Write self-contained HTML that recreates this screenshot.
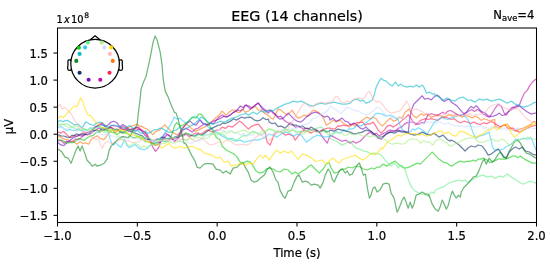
<!DOCTYPE html>
<html><head><meta charset="utf-8"><title>EEG (14 channels)</title>
<style>html,body{margin:0;padding:0;background:#fff}body{width:550px;height:264px;overflow:hidden;position:relative}</style></head>
<body>
<svg width="550" height="264" viewBox="0 0 550 264" style="position:absolute;left:0;top:0">
<defs><clipPath id="c"><rect x="57.5" y="28.0" width="479.0" height="194.5"/></clipPath></defs>
<g clip-path="url(#c)" fill="none" stroke-width="1.25" stroke-opacity="0.6" stroke-linejoin="round" stroke-linecap="butt">
<polyline stroke="#ff7711" points="57.6,137.1 60.1,136.4 62.7,138.4 65.3,139.3 67.9,139.7 70.4,141.4 73.0,141.0 76.9,144.2 80.1,141.6 82.7,143.5 85.9,142.9 88.5,144.2 91.0,139.7 93.6,137.7 97.5,135.8 100.0,138.4 103.9,139.7 106.5,136.5 109.6,131.6 112.6,130.1 115.5,132.4 118.5,130.1 121.4,128.7 124.4,130.1 127.3,127.9 130.3,126.5 133.2,125.7 135.2,124.8 137.4,124.1 139.7,126.4 142.0,126.2 144.2,127.9 147.3,129.3 150.3,131.7 152.6,134.7 155.6,131.7 159.4,130.2 162.4,127.1 164.7,124.8 167.0,127.1 169.2,129.4 171.5,131.7 174.1,133.1 177.1,135.1 180.1,132.1 183.1,127.1 186.1,124.1 189.2,126.1 192.2,129.1 195.2,131.1 198.2,130.1 202.2,128.1 206.2,126.1 210.2,123.1 214.3,119.1 218.3,116.0 221.3,112.0 222.2,111.1 226.3,115.1 229.3,112.1 232.3,110.1 234.8,110.0 237.3,112.1 239.8,112.4 242.3,109.1 245.3,112.1 248.4,111.1 252.4,107.0 255.4,106.7 258.4,110.1 261.4,110.2 264.4,113.1 268.1,115.1 271.1,118.2 273.1,119.2 276.1,113.1 278.1,109.1 281.1,110.1 284.2,113.1 287.2,115.1 290.2,112.1 292.2,110.1 295.2,115.1 298.2,118.2 301.2,117.1 304.2,115.1 307.2,116.1 310.3,113.1 313.3,110.1 316.3,111.1 319.3,113.1 322.3,116.1 324.3,120.2 326.3,125.2 329.3,123.2 330.0,123.1 333.0,120.1 336.0,122.1 340.0,120.1 343.1,123.1 346.1,125.1 349.1,127.1 352.1,124.1 355.1,126.1 358.1,124.1 361.1,121.1 364.1,119.1 367.1,117.1 370.2,119.1 373.2,117.1 376.2,119.1 379.2,123.1 382.2,126.1 385.2,123.1 388.2,120.1 390.2,118.1 393.3,121.1 396.3,120.1 399.3,117.1 402.3,118.1 405.0,112.2 407.5,110.5 409.1,108.9 411.5,113.0 414.0,116.3 416.5,117.9 418.9,115.5 421.4,113.8 423.8,115.5 426.3,113.8 428.7,115.5 431.2,117.1 434.5,116.3 437.7,114.6 440.2,115.5 442.6,117.1 445.9,116.3 449.2,114.6 452.5,116.3 455.7,114.6 459.0,115.5 462.3,117.1 465.6,115.5 468.8,116.3 472.1,117.9 475.4,116.3 478.6,117.9 481.1,120.4 483.6,118.7 486.8,119.5 490.1,121.2 492.4,120.1 494.7,119.5 495.2,126.1 499.3,128.1 503.3,125.1 507.3,124.1 511.3,129.1 515.3,131.1 519.3,129.1 523.4,128.1 527.4,126.1 531.4,124.1 533.7,121.3 536.0,122.1"/>
<polyline stroke="#ff2255" points="57.6,131.9 60.8,133.2 63.4,131.3 66.6,134.5 69.2,137.1 71.7,137.5 74.3,135.2 76.9,136.5 80.7,134.5 84.0,131.6 87.2,132.6 89.7,132.4 92.3,130.0 94.9,126.7 97.5,126.2 99.3,124.2 102.2,122.8 105.2,125.7 108.1,127.9 111.1,127.2 114.0,128.7 117.0,130.1 119.9,128.7 122.9,126.5 125.8,127.9 128.8,130.1 131.8,128.7 135.2,128.6 138.2,127.1 141.2,129.4 144.2,131.7 147.3,136.2 150.3,140.8 152.6,143.8 154.8,144.5 157.9,143.0 160.9,140.8 163.9,139.2 167.7,140.0 171.5,138.5 175.3,140.0 179.1,137.7 180.1,135.1 183.1,136.2 186.1,134.1 189.2,136.8 192.2,135.1 195.2,133.2 198.2,133.1 201.2,134.0 204.2,132.1 207.2,129.9 210.2,131.1 213.3,132.2 216.3,130.1 219.3,130.0 222.3,127.1 225.3,128.4 228.3,126.1 232.3,127.1 236.3,124.1 239.4,121.1 242.4,123.1 246.4,127.1 248.4,129.1 251.4,126.3 254.4,125.1 258.4,124.1 262.4,129.1 265.4,133.2 267.1,142.1 270.1,145.1 272.1,140.1 274.1,134.1 277.1,131.1 281.1,132.1 285.2,135.1 289.2,134.1 293.2,136.1 295.2,140.1 298.2,136.1 301.2,132.1 304.2,130.1 307.2,131.1 311.3,133.1 314.3,131.1 317.3,131.5 320.3,131.1 322.8,129.7 325.3,128.9 327.8,128.1 330.3,128.1 332.9,129.2 335.4,128.7 337.9,125.8 340.4,126.1 342.9,125.1 345.4,125.6 347.9,125.5 350.4,124.4 352.9,124.1 355.4,123.4 357.8,122.4 360.3,122.5 362.8,122.2 365.2,125.3 367.7,123.7 370.2,124.1 373.2,122.1 375.2,125.1 378.2,130.1 381.2,133.1 384.2,130.1 387.2,126.1 390.2,125.1 393.3,127.1 396.3,125.1 399.3,123.1 402.3,120.1 405.3,118.1 408.3,114.6 410.7,117.9 413.2,122.0 415.6,124.5 418.1,122.8 420.5,120.4 423.0,119.5 425.5,118.7 427.9,119.5 431.2,118.7 434.5,119.5 437.7,120.4 441.0,117.9 444.3,117.1 447.6,117.9 450.8,119.5 454.1,118.7 457.4,121.2 460.6,122.8 463.9,121.2 467.2,122.0 470.5,123.6 473.7,122.0 477.0,123.6 480.3,124.5 483.6,122.8 486.8,123.6 490.1,122.0 492.4,121.9 494.7,123.6 495.2,124.1 497.8,125.2 500.3,127.1 502.8,125.6 505.3,125.1 507.8,128.3 510.3,128.1 512.8,128.0 515.3,130.1 519.3,132.1 523.4,130.1 527.4,128.1 531.4,126.1 533.7,125.8 536.0,125.1"/>
<polyline stroke="#bb11aa" points="58.0,141.2 60.9,140.2 63.9,143.4 66.8,141.1 69.8,141.9 72.7,141.7 75.7,139.0 78.6,139.7 81.6,137.5 84.5,134.8 87.5,134.6 90.4,134.0 93.4,131.6 96.3,129.6 99.3,127.9 102.2,130.3 105.2,128.7 108.1,128.3 111.1,125.7 114.0,125.6 117.0,126.5 119.9,127.3 122.9,129.4 125.8,129.1 128.8,131.6 132.0,130.8 135.2,130.2 137.4,129.8 139.7,129.4 142.0,130.7 144.2,131.7 147.3,134.7 150.3,140.8 152.6,146.8 155.6,151.4 158.6,147.6 160.9,141.5 163.2,136.2 165.5,133.2 168.5,134.7 171.5,137.7 174.5,141.5 176.8,139.2 179.1,136.2 180.1,134.1 183.1,130.1 186.1,128.1 189.2,130.1 192.2,132.1 195.2,129.1 198.2,128.1 201.2,126.1 204.2,124.1 207.2,125.1 210.2,123.1 213.3,121.1 216.3,120.1 219.3,117.0 222.3,115.0 225.3,117.0 228.3,116.0 231.3,114.0 234.3,112.0 237.3,110.0 240.4,111.0 243.4,109.0 245.0,105.1 249.0,106.1 252.0,108.1 255.0,105.1 258.1,103.1 261.1,106.1 264.1,109.1 267.1,111.1 270.1,110.1 273.1,113.1 275.7,114.6 278.3,117.0 280.9,116.2 283.4,119.5 286.0,121.8 288.6,123.0 291.2,123.0 295.2,127.1 299.2,126.1 303.2,129.1 307.2,128.1 311.3,130.1 315.3,129.1 319.3,132.1 323.3,138.1 327.3,143.1 330.0,135.1 334.0,137.1 338.0,139.2 342.0,141.2 346.1,140.2 350.1,143.2 353.1,141.2 356.1,143.2 360.1,141.2 364.1,137.1 367.1,134.1 370.2,132.1 373.2,134.8 376.2,133.1 379.2,135.7 382.2,134.1 384.9,132.7 387.6,131.2 390.2,130.1 392.9,130.5 395.6,130.8 398.3,128.1 401.3,127.5 404.3,124.1 407.3,122.6 410.3,122.1 413.3,122.1 416.3,124.1 419.0,124.1 421.7,122.5 424.4,123.1 427.9,114.6 431.2,113.8 434.5,114.6 437.7,115.5 440.2,113.8 442.6,112.2 445.1,113.8 447.6,111.4 450.0,110.5 452.5,111.4 454.9,113.0 457.4,114.6 460.6,115.5 463.9,114.6 467.2,112.2 469.6,110.5 472.1,109.7 474.6,111.4 477.0,109.7 479.5,110.5 481.9,113.0 484.4,114.6 486.8,116.3 489.2,117.2 492.2,113.2 495.2,108.2 498.3,104.2 501.3,106.2 504.3,113.2 506.3,115.2 509.3,110.2 512.3,107.2 515.3,108.2 519.3,105.2 521.3,100.1 524.4,93.1 527.4,90.1 529.4,86.1 532.4,82.1 536.0,79.1"/>
<polyline stroke="#33ccff" points="58.0,127.9 60.9,126.3 63.9,128.7 66.8,130.8 69.8,129.4 72.7,130.4 75.7,130.1 78.6,128.8 81.6,130.9 84.5,129.3 87.5,130.1 90.4,127.6 93.4,128.7 96.3,126.5 99.3,126.5 101.5,125.1 103.7,125.7 106.7,127.2 108.9,134.6 110.4,139.7 111.8,143.4 114.0,144.9 115.2,142.1 118.3,145.6 121.3,147.1 124.5,139.2 126.8,145.3 129.1,147.6 132.1,146.1 135.2,144.5 138.2,147.6 141.2,149.1 144.2,149.8 147.3,148.3 150.3,145.3 152.6,143.0 155.6,143.8 158.6,141.5 161.7,137.7 164.7,133.2 167.7,129.4 170.8,124.1 173.0,120.3 174.1,117.0 177.1,119.1 180.1,118.1 183.1,121.1 186.1,123.1 189.2,120.1 192.2,118.1 195.2,116.0 198.2,118.1 201.2,121.1 204.2,124.1 208.2,127.1 212.2,129.1 216.3,132.1 220.3,135.1 224.3,137.1 228.3,139.1 232.3,138.1 236.3,141.1 240.4,140.1 244.4,142.1 248.4,141.1 252.4,140.1 254.7,139.7 257.0,140.1 261.1,139.1 265.1,137.1 269.1,134.1 273.1,135.1 277.1,137.1 281.1,134.1 285.2,132.1 289.2,133.1 293.2,136.1 297.2,134.1 301.2,135.1 304.2,139.1 306.2,142.1 309.3,140.1 313.3,137.1 317.3,135.1 321.3,136.1 325.3,137.1 329.3,136.1 331.7,136.1 334.2,132.4 336.6,131.6 339.0,133.2 341.4,132.1 343.9,129.6 346.4,131.3 348.9,128.6 351.4,129.1 354.1,128.1 357.1,125.6 360.1,126.1 364.1,124.1 368.2,121.1 372.2,118.1 375.2,114.1 378.2,113.1 382.2,114.1 386.2,116.1 390.2,115.1 394.3,117.1 398.3,120.1 400.3,126.1 403.3,131.1 405.8,132.9 408.3,132.1 410.5,131.8 412.7,128.9 414.8,130.2 418.1,127.7 421.4,129.4 424.6,131.8 427.1,134.3 429.5,130.2 432.0,126.1 434.5,122.0 436.9,120.4 439.4,118.7 441.8,117.1 444.3,118.7 447.6,119.5 450.8,117.9 454.1,117.1 457.4,116.3 460.6,114.6 463.9,115.5 466.4,117.9 468.8,121.2 470.5,125.3 472.1,130.2 473.7,134.3 476.2,138.2 479.2,136.1 483.2,135.1 487.2,133.1 489.2,132.1 490.4,138.2 491.2,140.0 492.2,146.0 494.2,150.0 496.7,149.5 499.3,150.0 503.3,149.0 507.3,146.0 511.3,144.0 514.3,141.0 515.3,139.2 519.3,140.2 523.4,138.2 527.4,139.2 531.4,138.2 533.4,143.2 536.0,150.2"/>
<polyline stroke="#7711bb" points="58.0,142.7 60.9,144.9 63.9,145.6 66.8,142.7 69.8,140.5 72.7,138.3 75.7,136.8 78.6,135.3 81.6,136.0 84.5,134.6 87.5,132.4 90.4,131.6 93.4,129.4 96.3,126.5 99.3,125.0 102.2,124.2 105.2,126.5 108.1,125.0 111.1,122.0 114.0,121.3 117.0,122.8 120.0,127.1 122.3,124.6 124.5,125.6 127.6,127.9 130.6,130.2 133.6,128.6 136.7,127.1 139.7,129.4 142.7,132.4 145.8,136.2 148.8,140.0 151.8,143.0 154.8,145.3 157.9,144.5 160.9,141.5 163.9,137.7 167.0,134.7 170.0,136.2 173.0,139.2 176.1,137.7 179.1,134.7 182.1,129.1 186.1,124.1 190.2,121.1 193.2,124.1 196.2,125.1 199.2,120.7 200.2,120.1 202.8,123.5 205.5,123.9 208.2,125.1 210.9,123.2 213.5,123.8 216.2,120.1 218.9,119.2 221.6,117.7 224.3,116.1 227.3,117.1 230.3,115.1 233.3,112.4 236.3,111.1 240.3,106.0 243.3,107.6 246.3,105.0 250.4,109.1 254.4,106.0 258.4,103.0 262.4,109.1 265.4,111.0 268.4,113.1 269.1,112.1 271.1,110.1 274.1,113.1 277.1,117.1 280.1,119.2 283.2,118.2 286.2,115.1 288.2,113.1 291.2,116.1 294.2,119.2 297.2,121.2 300.2,122.2 303.2,120.2 306.2,117.1 309.3,115.1 312.3,113.1 315.3,112.1 318.3,113.1 321.3,115.1 324.3,117.1 327.3,116.1 329.3,117.8 330.0,120.1 333.0,118.1 336.0,121.1 339.0,120.1 342.0,118.1 345.1,121.1 348.1,122.1 351.1,125.1 354.1,123.1 357.1,125.1 360.1,128.1 363.1,129.1 366.1,127.1 369.2,130.1 372.2,132.1 375.2,135.1 378.2,138.2 381.2,139.2 384.2,136.1 387.2,133.1 390.2,132.1 394.3,131.1 398.3,130.1 401.3,130.9 404.3,131.1 408.3,132.6 409.6,119.5 411.5,109.7 414.0,104.0 417.3,100.7 420.5,97.5 422.2,95.8 424.6,99.1 427.9,98.3 431.2,99.9 434.5,96.6 436.9,95.0 439.4,96.6 441.8,99.9 444.3,101.5 446.7,99.9 449.2,99.1 451.6,102.4 454.1,104.0 456.6,105.6 459.0,108.1 461.5,111.4 463.9,113.8 466.4,112.2 468.8,108.9 471.3,106.5 473.7,108.1 476.2,105.6 477.8,107.3 480.3,110.5 482.7,112.2 485.2,113.0 487.7,115.5 490.4,116.7 493.2,116.1 496.2,115.2 499.3,113.1 501.8,115.4 504.3,115.1 506.8,112.9 509.3,111.0 511.8,109.4 514.3,107.0 516.8,105.6 519.3,106.0 523.4,109.0 527.4,112.0 531.4,114.1 533.7,113.4 536.0,113.1"/>
<polyline stroke="#11cc11" points="58.0,139.7 60.9,140.0 63.9,141.2 66.8,143.1 69.8,142.7 72.7,142.6 75.7,141.2 78.6,138.4 81.6,139.7 84.5,140.3 87.5,137.5 90.4,136.2 93.4,135.3 96.3,132.3 99.3,132.4 102.2,130.2 105.2,130.9 108.1,130.4 111.1,132.4 114.0,132.3 117.0,134.6 119.9,132.5 122.9,133.1 126.0,132.8 129.1,134.7 131.4,136.7 133.6,137.7 135.9,137.4 138.2,136.2 140.5,138.7 142.7,138.5 145.0,141.7 147.3,141.5 149.5,142.3 151.8,143.8 154.1,142.9 156.4,142.3 158.6,141.4 160.9,140.0 163.2,141.4 165.5,141.5 167.7,141.2 170.0,139.2 172.3,133.2 174.5,125.6 176.8,122.6 180.1,126.1 183.1,125.1 186.1,123.1 189.1,121.1 192.1,117.1 196.1,118.1 198.7,114.1 201.2,114.1 205.2,119.1 209.2,125.1 213.2,131.1 216.2,137.2 220.1,140.0 222.1,146.0 226.1,150.0 230.1,152.0 234.1,154.1 237.1,157.1 240.2,162.1 243.2,163.1 247.2,161.1 250.2,162.1 253.2,166.1 256.2,171.1 259.2,173.1 263.3,172.1 266.3,169.1 270.0,168.0 273.0,169.0 276.0,171.0 280.0,172.0 284.1,169.0 288.1,170.0 292.1,174.1 295.1,172.0 298.1,174.1 302.1,171.0 306.1,169.0 309.2,166.0 311.2,165.0 315.2,169.0 319.2,173.1 323.2,169.0 326.2,164.0 329.2,163.0 331.2,168.0 334.3,173.1 338.3,172.0 341.3,169.0 345.3,169.0 348.3,167.0 352.3,168.0 356.3,166.0 360.4,167.0 363.4,169.0 367.4,170.0 371.4,168.0 374.4,169.0 377.2,167.0 380.0,167.0 383.1,164.1 387.1,166.1 391.1,163.1 395.2,161.1 398.2,164.1 402.2,167.1 405.2,168.2 409.2,167.1 413.2,165.1 417.2,163.1 420.3,164.1 423.3,161.1 426.3,158.1 429.3,155.1 432.3,152.1 434.3,154.1 435.0,155.1 439.0,159.1 443.0,162.1 447.0,163.1 449.6,165.3 452.1,166.1 456.1,163.1 460.1,161.1 464.1,162.1 468.1,161.1 470.6,161.3 473.2,160.1 475.7,161.3 478.2,159.1 480.7,159.1 483.2,158.1 487.2,160.1 489.7,162.5 492.2,162.1 496.2,160.1 498.8,158.8 501.3,159.1 505.3,159.1 507.8,158.4 510.3,157.1 512.8,156.0 515.3,156.1 517.8,157.8 520.3,156.1 524.4,159.1 528.4,161.1 532.4,163.1 536.0,163.1"/>
<polyline stroke="#11bbcc" points="57.6,122.3 60.1,120.2 62.7,121.7 65.3,120.7 67.9,120.4 71.7,122.9 74.3,124.9 78.2,124.2 82.0,128.1 85.9,121.7 89.7,124.2 93.6,125.5 96.2,123.3 98.8,122.3 101.3,122.3 103.9,124.9 105.2,125.0 107.4,126.9 109.6,126.5 111.8,125.3 114.0,125.0 116.3,125.5 118.5,126.5 120.7,126.2 122.9,127.9 125.1,128.7 127.3,126.5 129.5,125.6 131.8,127.2 135.2,131.7 137.7,130.3 140.2,133.1 142.7,133.2 145.3,131.0 147.8,133.3 150.3,132.4 153.3,130.2 155.6,129.7 157.9,129.4 160.2,128.0 162.4,128.6 164.7,130.0 167.0,131.7 169.2,132.4 171.5,132.4 173.8,130.5 176.1,130.2 179.8,127.1 183.0,129.5 186.1,129.1 190.2,126.1 194.2,124.1 198.2,120.1 201.2,117.0 204.2,119.1 208.2,122.1 212.2,124.1 216.3,123.1 220.3,121.1 224.3,122.1 228.3,120.1 232.3,118.1 236.3,117.0 240.4,115.0 244.4,114.0 245.0,113.1 249.0,115.1 253.0,112.1 257.0,114.1 261.1,111.1 265.1,112.1 269.1,110.1 273.1,111.1 277.1,108.1 281.1,106.1 285.2,104.1 289.2,103.1 293.2,101.1 297.2,102.1 301.2,101.1 305.2,103.1 309.3,105.1 313.3,106.1 317.3,104.1 321.3,103.1 325.3,104.1 329.3,103.1 330.0,103.2 334.0,102.1 338.0,103.2 342.0,104.2 346.1,104.2 350.1,103.2 353.1,100.1 357.1,99.1 360.1,101.1 363.1,100.1 366.1,103.2 369.2,102.1 372.2,100.1 374.2,95.1 376.2,87.1 379.2,81.1 381.2,78.1 383.2,80.1 386.2,81.1 389.2,84.1 392.2,86.1 395.3,82.1 398.3,86.1 400.3,84.1 403.3,86.1 407.3,87.1 410.3,86.1 413.3,87.1 416.3,85.1 419.4,87.1 422.4,85.1 424.4,88.1 426.4,93.1 429.4,92.1 432.4,94.1 434.4,93.5 435.0,95.1 439.0,97.1 443.0,100.1 447.0,98.1 451.1,100.1 455.1,101.1 459.1,98.1 463.1,97.1 467.1,100.1 471.1,100.1 475.2,102.1 479.2,99.1 483.2,100.1 487.2,99.1 491.2,101.1 495.2,100.1 499.3,99.1 503.3,101.1 507.3,103.2 511.3,101.1 515.3,104.2 519.3,105.2 523.4,107.2 527.4,106.2 531.4,104.2 533.7,102.9 536.0,102.1"/>
<polyline stroke="#113366" points="58.0,134.6 60.9,135.8 63.9,136.0 66.8,137.2 69.8,137.5 72.0,135.1 74.2,136.0 76.4,133.9 78.6,134.6 81.6,134.2 84.5,133.8 87.5,134.7 90.4,132.4 93.4,130.7 96.3,130.1 99.3,131.1 102.2,127.9 105.2,129.5 108.1,128.7 111.1,127.6 114.0,130.1 117.0,129.1 119.9,131.6 122.9,132.4 125.8,130.9 128.8,129.8 131.8,131.6 135.2,133.2 137.7,134.0 140.2,135.2 142.7,136.2 145.3,139.0 147.8,139.5 150.3,139.2 152.6,140.8 154.8,140.8 157.1,138.9 159.4,139.2 161.7,137.0 163.9,137.7 166.2,138.4 168.5,138.5 170.8,139.1 173.0,137.7 175.3,136.7 177.6,137.0 178.1,137.1 182.1,135.1 186.1,133.1 190.2,135.1 194.2,136.1 198.2,134.1 202.2,135.1 206.2,132.1 210.2,129.1 214.3,127.1 218.3,125.1 220.2,125.1 222.9,123.1 225.6,123.5 228.3,122.1 231.0,120.9 233.6,118.8 236.3,120.1 239.0,118.6 241.7,117.0 244.3,118.1 247.3,117.3 250.4,117.1 254.4,120.1 257.4,120.8 260.4,120.1 263.1,117.8 265.8,119.6 268.4,119.1 269.1,122.0 272.1,123.7 275.1,123.0 278.1,126.7 281.1,126.1 285.2,128.1 289.2,124.0 293.2,125.1 296.2,125.0 299.2,127.1 302.2,125.7 305.2,128.1 308.3,129.0 311.3,127.1 315.3,130.1 319.3,132.1 323.3,130.1 326.3,132.1 329.3,131.1 330.0,130.1 334.0,131.1 338.0,129.1 342.0,130.1 346.1,131.1 350.1,132.1 354.1,134.1 358.1,133.1 362.1,132.1 366.1,130.1 370.2,131.1 374.2,134.1 378.2,137.1 382.2,137.1 386.2,134.1 390.2,132.1 394.3,133.1 398.3,131.1 402.3,132.1 406.3,132.1 410.3,134.1 414.3,135.1 418.4,134.1 422.4,132.1 426.4,134.1 430.4,135.1 434.4,133.1 435.0,134.1 439.0,137.1 443.0,135.1 447.0,139.2 450.1,141.2 451.1,140.0 455.1,142.0 459.1,145.0 462.1,148.0 465.1,151.0 468.1,148.0 471.1,146.0 475.2,147.0 478.2,145.0 482.2,146.0 485.2,150.0 488.2,155.1 491.2,154.1 495.2,151.0 498.3,149.0 501.3,153.1 504.3,157.1 506.3,158.1 509.3,152.0 512.3,149.0 515.3,147.0 519.3,149.0 522.3,147.0 525.4,151.0 529.4,152.0 532.4,154.1 536.0,155.1"/>
<polyline stroke="#66ee88" points="57.6,123.6 60.1,124.9 62.7,124.2 65.3,124.0 67.9,124.2 71.7,126.8 75.6,128.7 78.2,130.2 80.7,130.7 83.3,128.4 85.9,130.0 88.2,130.2 90.4,129.4 92.6,128.3 94.9,127.9 97.1,127.3 99.3,126.5 102.2,128.9 105.2,127.9 108.1,127.7 111.1,130.1 114.0,129.7 117.0,129.4 119.9,130.1 122.9,131.6 125.8,132.6 128.8,130.1 132.0,131.0 135.2,134.7 138.2,136.4 141.2,136.8 144.2,137.7 147.3,137.3 150.3,139.5 153.3,140.0 156.4,140.8 159.4,139.0 162.4,139.2 165.5,139.8 168.5,137.9 171.5,137.7 174.0,137.9 176.6,136.3 179.1,136.2 181.9,135.3 184.9,133.0 187.8,133.8 190.8,134.1 193.7,135.3 196.7,136.3 199.6,133.8 202.6,136.2 205.6,134.6 208.5,134.6 211.5,133.1 213.7,134.1 216.0,132.6 218.3,133.1 221.3,134.1 224.3,135.1 227.3,139.0 230.3,139.1 234.3,141.1 238.4,139.1 242.4,136.1 244.4,135.1 245.0,136.1 249.0,134.1 253.0,131.1 257.0,133.1 261.1,135.1 265.1,132.1 269.1,129.1 273.1,130.1 277.1,132.1 281.1,131.1 285.2,129.1 289.2,131.1 293.2,130.1 297.2,132.1 301.2,131.1 305.2,132.1 309.3,130.1 313.3,129.1 317.3,128.1 321.3,127.1 325.3,130.1 329.3,132.1 330.0,138.2 334.0,140.2 338.0,142.2 342.0,145.2 346.1,143.2 350.1,141.2 353.1,145.2 356.1,148.2 360.1,149.2 364.1,151.2 368.2,152.2 371.1,154.1 375.1,153.1 379.1,154.1 382.1,156.1 385.1,160.1 388.1,163.1 391.1,166.1 394.2,163.1 396.2,165.1 398.2,168.2 400.1,165.0 402.6,166.0 405.1,170.0 407.1,176.0 409.2,182.1 412.2,188.1 415.2,191.1 419.2,193.1 421.7,194.1 424.2,194.1 428.2,196.1 431.2,192.1 434.3,193.1 435.0,190.2 439.0,188.2 443.0,187.2 447.0,184.2 451.1,182.2 455.1,181.2 459.1,180.2 462.1,181.1 465.1,180.2 468.1,182.2 471.1,180.2 475.2,178.2 479.2,176.1 483.2,175.1 487.2,177.1 491.2,176.1 495.2,178.2 499.3,176.1 503.3,177.1 507.3,174.1 511.3,177.1 515.3,179.2 519.3,182.2 523.4,184.2 527.4,182.2 531.4,181.2 533.7,182.3 536.0,183.2"/>
<polyline stroke="#ffbbbb" points="57.8,107.4 60.1,104.2 62.1,109.3 64.7,107.4 67.9,110.6 71.1,113.8 74.3,119.6 76.2,122.8 77.1,125.0 80.1,127.2 83.8,130.9 87.5,133.8 89.7,135.6 91.9,137.5 95.6,139.7 98.2,139.1 100.2,144.1 102.2,148.1 104.2,144.1 108.2,141.1 111.2,144.1 115.5,141.9 118.1,140.9 120.7,139.7 123.3,139.5 125.8,141.2 128.8,140.7 131.8,142.7 134.2,142.6 136.7,142.0 139.1,141.9 141.7,140.1 144.3,140.2 146.9,140.8 149.5,140.5 152.0,141.4 154.6,139.0 157.2,141.4 159.8,141.2 162.4,140.3 165.0,140.2 167.5,139.3 170.1,139.7 172.7,137.8 175.3,139.4 177.9,140.4 180.5,139.3 184.1,139.1 187.1,139.5 190.2,138.1 194.2,141.1 198.2,140.1 202.2,138.1 206.2,142.1 210.2,145.2 214.3,144.2 218.3,142.1 222.3,143.2 226.3,140.1 230.3,141.1 234.3,144.2 238.4,145.2 242.4,144.2 246.4,145.2 249.0,144.1 253.0,140.1 257.0,136.1 261.1,134.1 264.1,138.1 268.1,141.1 272.1,138.1 276.1,134.1 280.1,131.1 284.2,130.1 287.2,130.2 290.2,125.2 293.2,120.2 296.2,115.1 299.2,110.1 302.2,105.1 305.2,103.1 308.3,106.1 311.3,107.1 314.3,105.1 317.3,103.1 321.3,102.1 325.3,103.1 329.3,102.1 330.0,103.2 333.0,100.1 336.0,96.1 338.0,97.1 341.0,102.1 344.1,103.2 347.1,101.1 350.1,102.1 354.1,99.1 358.1,98.1 362.1,99.1 365.1,97.1 367.1,93.1 369.2,91.1 371.2,95.1 373.2,99.1 376.2,102.1 379.2,101.1 382.2,104.2 385.2,108.2 388.2,111.2 391.2,113.2 395.3,112.2 399.3,111.2 402.3,108.2 404.3,104.2 405.0,104.8 406.6,100.7 408.3,104.0 409.9,108.1 412.4,110.5 414.8,108.9 418.1,109.7 421.4,111.4 424.6,113.0 427.9,113.8 430.4,114.7 432.8,114.6 435.3,116.3 437.7,116.3 440.2,115.8 442.6,115.5 445.1,113.4 447.6,113.8 450.0,114.3 452.5,114.6 454.9,116.7 457.4,116.3 459.8,114.3 462.3,115.5 464.7,115.6 467.2,114.6 469.6,113.6 472.1,115.5 474.6,114.8 477.0,114.6 479.5,114.4 481.9,113.8 484.9,112.7 489.2,107.0 493.2,105.0 497.2,104.0 501.3,106.0 505.3,108.0 507.6,108.8 510.0,110.4 512.3,109.0 514.7,109.5 517.0,107.7 519.3,110.0 523.4,115.1 527.4,119.1 531.4,122.1 533.7,122.6 536.0,123.1"/>
<polyline stroke="#ccddff" points="58.0,126.9 60.3,126.9 62.7,127.5 65.0,129.2 67.4,128.3 69.8,127.9 72.2,127.3 74.7,128.7 77.1,131.5 79.6,129.2 82.1,131.9 84.5,130.9 87.0,132.0 89.4,132.7 91.9,131.6 94.4,133.5 96.8,131.6 99.3,133.1 101.7,134.6 104.2,135.0 106.7,134.2 109.1,133.9 111.6,136.0 114.0,136.0 116.5,137.8 119.0,136.1 121.4,137.7 123.9,136.4 126.3,138.9 128.8,138.3 131.3,137.5 133.7,138.7 136.2,138.3 138.6,138.7 141.1,140.3 143.6,140.5 146.5,141.0 149.5,141.2 152.2,139.9 154.9,141.8 157.6,141.0 160.3,140.9 163.0,141.1 165.7,139.3 168.4,140.3 171.0,141.4 173.7,140.4 176.3,138.6 179.0,139.7 180.1,140.1 183.1,143.0 186.1,142.1 189.2,142.8 192.2,143.2 195.2,140.9 198.2,141.1 201.2,140.1 204.2,137.1 207.2,134.5 210.2,135.1 213.3,134.4 216.3,133.1 219.3,129.5 222.3,130.1 225.3,131.5 228.3,131.1 231.3,130.4 234.3,133.1 237.3,132.8 240.4,135.1 243.4,133.6 246.4,136.1 249.4,135.2 252.4,135.1 255.4,132.5 258.4,134.1 261.1,134.4 263.8,134.0 266.5,135.4 269.1,134.1 271.8,134.5 274.5,133.1 277.2,131.1 279.9,131.5 282.5,130.6 285.2,131.9 287.9,129.9 290.6,129.1 293.2,128.2 295.9,129.4 298.6,125.3 301.3,126.2 303.9,124.7 306.6,124.1 309.5,123.2 312.4,118.8 315.3,118.2 319.3,115.1 323.3,113.1 327.3,111.1 330.0,106.2 334.0,108.2 338.0,111.2 341.0,113.2 344.1,110.2 347.1,107.2 350.1,108.2 354.1,110.2 358.1,111.2 362.1,113.2 366.1,115.2 370.2,113.2 374.2,110.2 377.2,107.2 380.2,108.2 383.2,112.2 386.2,115.2 390.2,116.1 393.3,118.7 396.3,117.1 398.8,117.6 401.3,118.6 403.8,117.7 406.3,119.1 409.1,122.5 412.0,121.3 414.8,123.6 417.0,122.0 419.2,122.3 421.4,124.5 424.1,123.6 426.8,121.7 429.5,122.8 432.3,122.1 435.0,124.0 437.7,122.0 440.5,122.0 443.2,123.8 445.9,123.6 448.6,123.0 451.4,124.4 454.1,125.3 456.8,126.1 459.6,125.7 462.3,126.1 465.0,126.9 467.7,125.8 470.5,126.9 473.2,126.7 475.9,127.1 478.6,126.1 481.4,125.7 484.1,128.5 486.8,127.7 489.3,128.6 491.8,127.0 494.3,127.6 496.8,127.3 499.3,128.1 501.7,129.6 504.1,127.7 506.5,130.0 508.9,130.2 511.3,130.1 513.7,130.6 516.1,128.6 518.5,128.2 520.9,130.8 523.4,129.1 525.9,128.2 528.4,128.7 530.9,127.2 533.5,128.9 536.0,128.1"/>
<polyline stroke="#118822" points="58.0,149.1 62.0,152.1 65.0,157.1 68.1,158.2 71.1,163.2 74.1,155.1 76.1,150.1 78.1,146.1 80.1,151.1 82.1,146.1 85.1,154.1 87.1,160.2 90.1,163.2 92.1,166.2 95.2,164.2 97.2,166.2 100.2,165.2 104.2,163.2 107.2,159.2 109.2,150.1 111.2,146.1 114.2,143.1 117.2,140.1 119.9,138.3 122.2,136.6 124.4,136.8 128.1,137.5 131.0,134.6 133.2,130.1 137.1,125.2 138.1,115.2 140.1,99.1 141.1,89.1 143.1,83.0 146.1,76.2 150.1,58.1 153.1,42.1 155.1,36.0 157.1,40.0 160.2,52.1 162.2,66.2 163.2,79.2 165.2,91.1 168.2,97.1 171.2,105.1 174.2,112.1 176.1,113.1 178.1,119.1 180.1,127.1 182.1,135.2 184.1,143.2 186.1,144.1 189.1,150.1 192.1,156.1 195.1,161.2 197.1,167.2 200.0,168.1 204.0,164.1 206.5,163.7 209.0,163.7 213.1,164.1 216.1,169.1 220.1,170.1 223.1,173.1 226.1,171.1 230.1,174.1 233.1,168.1 237.1,167.1 240.2,164.1 243.2,163.1 245.2,167.1 248.2,172.1 251.2,180.2 254.2,182.2 257.2,181.2 260.2,178.2 264.3,175.1 267.3,169.1 270.0,167.0 273.0,172.0 276.0,180.1 278.0,182.1 280.0,190.1 283.1,196.1 285.1,198.2 288.1,191.1 291.1,190.1 294.1,182.1 297.1,176.1 299.1,175.1 302.1,182.1 305.1,181.1 308.2,182.1 311.2,185.1 314.2,184.1 318.2,185.1 320.2,188.1 323.2,182.1 325.2,175.1 328.2,169.0 330.2,172.0 332.2,179.1 334.3,182.1 336.3,177.1 339.3,171.0 342.3,169.0 345.3,173.1 347.3,171.0 349.3,175.1 352.3,174.1 354.3,170.0 357.3,165.0 359.4,163.0 361.4,169.0 363.4,175.1 365.4,174.1 367.4,188.1 369.4,198.2 371.0,195.1 373.0,188.1 375.0,187.1 377.0,192.1 380.0,190.1 383.1,184.1 386.1,183.1 389.1,184.1 391.1,193.1 394.1,198.1 397.1,212.2 399.1,208.2 402.1,200.1 404.1,197.1 406.1,202.1 408.2,208.2 410.2,202.1 412.2,208.2 414.2,203.2 416.2,195.1 419.2,194.1 422.2,192.1 425.2,194.1 428.2,194.1 430.2,198.1 432.2,204.2 435.3,209.2 438.3,211.2 440.3,206.2 442.3,200.1 444.3,204.2 446.3,209.2 448.3,205.2 450.3,197.1 452.3,191.1 454.3,195.1 456.3,198.1 458.4,195.1 460.4,197.1 461.1,192.2 464.1,187.2 467.1,184.2 470.1,181.2 473.2,177.1 476.2,176.1 479.2,170.1 482.2,162.1 484.2,159.1 486.2,164.1 489.2,158.1 492.2,162.1 495.2,159.1 498.3,154.1 500.3,152.0 503.3,157.1 506.3,158.1 509.3,151.0 512.3,146.0 514.3,142.0 517.3,140.0 520.3,143.0 523.4,149.0 526.4,153.1 529.4,154.1 532.4,156.1 536.0,158.1"/>
<polyline stroke="#ffdd00" points="57.6,118.3 60.8,116.4 63.4,117.7 66.6,113.8 70.4,109.9 74.3,106.1 76.9,106.7 78.8,102.2 80.7,97.7 82.7,101.6 85.2,109.3 87.8,115.1 90.4,115.7 93.0,118.3 96.2,122.8 97.8,123.5 100.0,125.9 102.2,127.9 104.8,127.9 107.4,129.4 110.0,130.2 112.6,130.1 115.1,130.8 117.7,131.6 120.3,129.6 122.9,130.9 125.5,130.5 128.1,133.8 130.6,135.1 133.2,134.6 135.8,135.7 138.4,137.5 141.0,136.9 143.6,139.7 147.3,141.7 150.0,142.1 154.0,145.2 158.0,144.2 162.0,148.2 166.1,145.2 169.1,143.2 172.1,147.2 176.1,148.2 180.1,146.2 184.1,148.2 188.2,147.2 192.2,146.2 196.2,148.2 199.2,149.6 200.0,149.0 204.0,153.1 208.0,154.1 212.0,155.1 216.1,158.1 220.1,157.1 224.1,162.1 228.1,161.1 231.1,166.1 235.1,165.1 237.7,165.1 240.2,163.1 242.7,163.8 245.2,165.1 249.2,163.1 253.2,164.1 257.2,158.1 260.2,155.1 263.3,158.1 265.3,155.1 269.3,160.1 273.3,154.1 276.3,150.0 280.3,153.1 284.3,151.0 288.4,153.1 291.4,151.0 294.4,155.1 298.4,159.1 302.4,154.1 306.4,155.1 310.0,157.1 312.7,159.1 315.3,161.3 318.0,161.0 322.0,160.0 325.0,163.0 327.0,163.5 330.0,160.0 333.0,158.0 336.0,161.0 339.0,163.0 342.0,160.0 346.0,158.0 350.0,157.0 354.0,155.5 355.0,155.1 359.0,158.1 363.0,160.1 366.0,158.1 369.1,155.1 372.1,153.1 375.1,155.1 378.1,152.1 381.1,148.1 382.2,149.2 385.2,145.2 388.2,141.2 392.2,139.2 395.3,137.1 398.3,135.1 401.3,136.1 404.3,134.1 407.3,133.1 410.3,134.1 414.3,133.1 418.4,135.1 422.4,134.1 426.4,136.1 430.4,135.1 434.4,133.1 435.0,133.1 439.0,131.1 441.5,131.1 444.0,134.1 448.1,132.1 452.1,135.1 456.1,136.1 460.1,131.1 464.1,132.1 468.1,134.1 472.1,136.1 476.2,137.1 480.2,135.1 484.2,133.1 487.2,130.1 490.2,130.1 494.2,127.1 497.2,130.1 501.3,127.1 505.3,124.1 508.3,127.1 511.3,133.1 514.3,137.1 517.3,135.1 520.3,132.1 523.4,130.1 526.4,128.1 529.4,126.1 532.4,125.1 536.0,123.1"/>
<polyline stroke="#aaf088" points="58.0,125.0 60.3,124.8 62.7,124.2 65.0,125.7 67.4,127.0 69.8,126.9 72.2,127.1 74.7,125.9 77.1,126.5 79.6,129.2 82.1,130.1 84.5,129.0 87.0,129.3 89.4,129.4 91.9,130.6 94.4,128.6 96.8,130.6 99.3,130.9 101.7,131.0 104.2,132.4 106.7,133.0 109.1,131.3 111.6,132.1 114.0,133.8 117.0,135.2 119.9,138.6 122.9,139.7 125.8,142.4 128.8,145.6 131.8,145.2 134.7,142.7 136.9,144.0 139.1,145.6 141.3,147.9 144.1,145.6 146.8,148.0 149.5,145.6 152.0,144.4 154.6,145.2 157.2,143.1 159.8,144.2 162.4,143.3 165.0,143.7 167.5,141.6 170.1,141.9 172.6,143.0 175.0,143.1 177.5,141.3 180.0,141.6 182.4,141.1 184.9,139.7 187.3,140.8 189.8,137.1 192.3,139.8 194.7,137.9 197.2,138.0 199.6,137.5 202.1,138.6 204.6,138.5 207.0,138.2 209.5,136.9 211.9,134.1 214.4,134.6 216.9,135.5 219.3,133.4 221.8,132.4 224.2,131.4 226.7,133.5 229.2,132.4 231.8,131.2 234.4,133.2 237.1,131.8 239.7,131.8 242.4,130.3 245.0,130.1 247.5,132.0 250.0,133.0 252.5,132.6 255.0,132.1 257.6,133.6 260.1,132.8 262.6,130.4 265.1,131.1 268.1,129.2 271.1,129.1 273.6,130.6 276.1,132.7 278.6,132.1 281.1,132.1 283.7,132.5 286.2,129.1 288.7,132.4 291.2,130.1 293.7,130.3 296.2,133.0 298.7,132.2 301.2,133.1 303.7,133.8 306.2,130.1 308.8,131.2 311.3,131.1 313.8,131.0 316.3,132.5 318.8,131.5 321.3,132.1 323.8,131.3 326.3,133.3 328.8,134.8 331.3,134.1 333.9,133.0 336.4,133.1 338.9,132.5 341.4,133.1 343.9,134.9 346.4,135.3 348.9,133.1 351.4,134.5 353.9,134.5 356.3,134.3 358.8,133.5 361.2,135.7 363.7,136.1 366.1,135.1 370.2,137.1 372.7,135.7 375.2,136.1 377.7,137.1 380.2,137.1 384.2,139.2 388.2,142.2 392.2,144.2 396.3,143.2 399.3,143.7 402.3,144.2 405.3,143.3 408.3,140.2 411.3,138.9 414.3,139.2 417.3,139.4 420.4,143.2 423.4,140.7 426.4,142.2 429.4,141.6 432.4,145.2 434.4,143.2 435.0,141.2 438.0,139.9 441.0,139.2 444.0,141.6 447.0,143.2 450.1,146.3 453.1,145.2 456.1,143.0 459.1,142.2 462.1,140.4 465.1,139.2 468.1,138.1 471.1,138.2 474.2,137.6 477.2,141.2 480.2,142.3 483.2,142.2 486.2,141.0 489.2,140.2 492.2,138.6 495.2,141.2 498.3,141.2 501.3,139.2 504.3,140.1 507.3,143.2 509.8,145.5 512.3,144.2 514.7,141.2 517.0,139.8 519.3,139.2 522.0,138.6 524.7,139.3 527.4,137.1 530.2,137.4 533.1,139.4 536.0,139.2"/>
</g>
<rect x="57.5" y="28.0" width="479.0" height="194.5" fill="none" stroke="#000" stroke-width="1.05"/>
<g stroke="#000" stroke-width="1.05">
<line x1="57.50" y1="222.5" x2="57.50" y2="226.5"/>
<line x1="137.33" y1="222.5" x2="137.33" y2="226.5"/>
<line x1="217.17" y1="222.5" x2="217.17" y2="226.5"/>
<line x1="297.00" y1="222.5" x2="297.00" y2="226.5"/>
<line x1="376.83" y1="222.5" x2="376.83" y2="226.5"/>
<line x1="456.67" y1="222.5" x2="456.67" y2="226.5"/>
<line x1="536.50" y1="222.5" x2="536.50" y2="226.5"/>
<line x1="53.5" y1="215.35" x2="57.5" y2="215.35"/>
<line x1="53.5" y1="188.30" x2="57.5" y2="188.30"/>
<line x1="53.5" y1="161.25" x2="57.5" y2="161.25"/>
<line x1="53.5" y1="134.20" x2="57.5" y2="134.20"/>
<line x1="53.5" y1="107.15" x2="57.5" y2="107.15"/>
<line x1="53.5" y1="80.10" x2="57.5" y2="80.10"/>
<line x1="53.5" y1="53.05" x2="57.5" y2="53.05"/>
</g>
<g font-family="'DejaVu Sans', 'Liberation Sans', sans-serif" font-size="11.6" fill="#000" stroke="#000" stroke-width="0.22">
<text x="57.50" y="239.8" text-anchor="middle">−1.0</text>
<text x="137.33" y="239.8" text-anchor="middle">−0.5</text>
<text x="217.17" y="239.8" text-anchor="middle">0.0</text>
<text x="297.00" y="239.8" text-anchor="middle">0.5</text>
<text x="376.83" y="239.8" text-anchor="middle">1.0</text>
<text x="456.67" y="239.8" text-anchor="middle">1.5</text>
<text x="536.50" y="239.8" text-anchor="middle">2.0</text>
<text x="47.9" y="219.95" text-anchor="end">−1.5</text>
<text x="47.9" y="192.90" text-anchor="end">−1.0</text>
<text x="47.9" y="165.85" text-anchor="end">−0.5</text>
<text x="47.9" y="138.80" text-anchor="end">0.0</text>
<text x="47.9" y="111.75" text-anchor="end">0.5</text>
<text x="47.9" y="84.70" text-anchor="end">1.0</text>
<text x="47.9" y="57.65" text-anchor="end">1.5</text>
<text x="297.0" y="256.8" text-anchor="middle">Time (s)</text>
<text transform="translate(13.4,126.5) rotate(-90)" text-anchor="middle">µV</text>
<text x="297.0" y="20.9" text-anchor="middle" font-size="14.3">EEG (14 channels)</text>
<text x="534.4" y="18.9" text-anchor="end">N<tspan font-size="8.4" dy="1.6">ave</tspan><tspan dy="-1.6">=4</tspan></text>
<text x="56.5" y="22.7" font-size="9.9">1<tspan font-style="italic" dx="1.3">x</tspan><tspan dx="1.1">10</tspan><tspan font-size="7.6" dx="0.6" dy="-4.6">8</tspan></text>
</g>
<g fill="none" stroke="#000" stroke-width="1.25" stroke-linejoin="round"><circle cx="95.1" cy="63.7" r="24.3"/><polyline points="90.0,39.9 95.1,35.8 100.2,39.9"/><polyline points="119.3,61.0 119.9,59.9 121.2,59.9 121.8,60.1 122.3,61.0 122.2,64.0 122.6,68.2 121.9,70.1 119.9,70.4 118.9,69.5"/><polyline points="70.9,61.0 70.3,59.9 69.0,59.9 68.4,60.1 67.9,61.0 68.0,64.0 67.6,68.2 68.3,70.1 70.3,70.4 71.3,69.5"/></g>
<g stroke="none"><circle cx="87.9" cy="42.5" r="2.05" fill="#66ee88"/><circle cx="101.8" cy="42.5" r="2.05" fill="#aaf088"/><circle cx="78.9" cy="47.8" r="2.05" fill="#11cc11"/><circle cx="85.1" cy="47.4" r="2.05" fill="#33ccff"/><circle cx="104.4" cy="47.4" r="2.05" fill="#ccddff"/><circle cx="111.1" cy="47.4" r="2.05" fill="#ffdd00"/><circle cx="79.6" cy="53.9" r="2.05" fill="#11bbcc"/><circle cx="109.9" cy="53.9" r="2.05" fill="#ffbbbb"/><circle cx="76.3" cy="60.9" r="2.05" fill="#118822"/><circle cx="112.8" cy="60.9" r="2.05" fill="#ff7711"/><circle cx="79.6" cy="72.7" r="2.05" fill="#113366"/><circle cx="109.5" cy="72.7" r="2.05" fill="#ff2255"/><circle cx="88.6" cy="79.8" r="2.05" fill="#7711bb"/><circle cx="100.3" cy="79.8" r="2.05" fill="#bb11aa"/></g>
</svg>
</body></html>
